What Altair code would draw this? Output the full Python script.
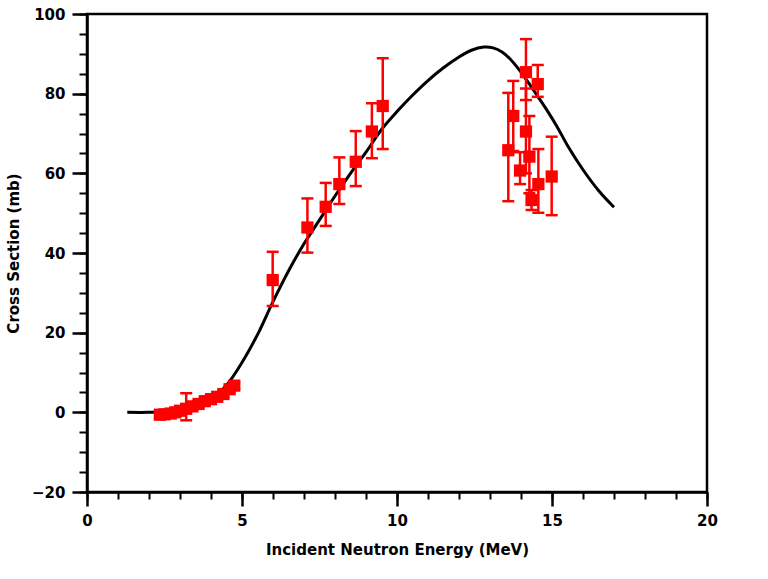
import altair as alt
import pandas as pd

# Calculated excitation function (MeV, mb)
curve_energy = [1.3, 2.0, 2.5, 3.0, 3.5, 4.0, 4.5, 5.0, 5.5, 6.0, 6.5, 7.0, 7.5, 8.0,
                8.5, 9.0, 9.5, 10.0, 10.5, 11.0, 11.5, 12.0, 12.4, 12.8, 13.1, 13.4,
                13.65, 13.9, 14.2, 14.5, 14.8, 15.15, 15.5, 16.0, 16.5, 17.0]
curve_xs = [0.0, 0.0, 0.1, 0.6, 1.6, 3.3, 6.8, 12.5, 19.5, 27.8, 35.5, 42.3, 48.3, 54.3,
            60.0, 65.3, 71.0, 75.5, 79.6, 83.3, 86.5, 89.2, 90.9, 91.7, 91.5, 90.4,
            88.7, 86.4, 83.2, 79.8, 76.3, 71.9, 67.0, 60.9, 55.7, 51.5]

# Measured cross sections with lower / upper error limits
meas_energy = [2.35, 2.5, 2.7, 2.85, 3.0, 3.2, 3.4, 3.6, 3.8, 4.0, 4.2, 4.4, 4.6, 4.75,
               5.99, 7.11, 7.70, 8.14, 8.67, 9.19, 9.54,
               13.59, 13.75, 13.97, 14.16, 14.16, 14.27, 14.34, 14.54, 14.56, 14.99]
meas_xs = [-0.6, -0.5, -0.3, 0.0, 0.4, 0.9, 1.5, 2.1, 2.8, 3.3, 3.9, 4.6, 5.8, 6.7,
           33.2, 46.4, 51.6, 57.3, 62.9, 70.5, 76.9,
           65.8, 74.4, 60.7, 85.4, 70.5, 64.2, 53.3, 82.4, 57.3, 59.2]
meas_lo = [-1.4, -1.3, -1.1, -0.8, -0.4, -2.0, 0.7, 1.3, 2.0, 2.5, 3.1, 3.8, 5.0, 5.9,
           26.7, 40.1, 46.8, 52.3, 56.8, 63.8, 66.1,
           53.0, 65.6, 57.3, 78.4, 60.0, 55.0, 50.8, 79.2, 50.1, 49.5]
meas_hi = [0.2, 0.3, 0.5, 0.8, 1.2, 4.8, 2.3, 2.9, 3.6, 4.1, 4.7, 5.4, 6.6, 7.5,
           40.3, 53.7, 57.6, 64.0, 70.6, 77.6, 88.9,
           80.2, 83.2, 65.3, 93.7, 81.3, 74.4, 55.8, 87.2, 66.1, 69.2]

x_major = [0, 5, 10, 15, 20]
x_minor = list(range(0, 21))
y_major = [-20, 0, 20, 40, 60, 80, 100]
y_minor = list(range(-20, 101, 5))

curve = pd.DataFrame({"E": curve_energy, "xs": curve_xs})
meas = pd.DataFrame({"E": meas_energy, "xs": meas_xs, "lo": meas_lo, "hi": meas_hi})

FONT = "DejaVu Sans"
xscale = alt.Scale(domain=[0, 20], nice=False, zero=False)
yscale = alt.Scale(domain=[-20, 100], nice=False, zero=False)

common = dict(grid=False, domainColor="black", tickColor="black", domainWidth=2.5,
              labelColor="black", titleColor="black", labelFont=FONT, titleFont=FONT,
              labelFontSize=15, titleFontSize=15, labelFontWeight="bold",
              titleFontWeight="bold", format="d", labelFlush=False)

x_axis = alt.Axis(values=x_major, orient="bottom", tickSize=14, tickWidth=2.5,
                  labelPadding=7, titlePadding=14,
                  title="Incident Neutron Energy (MeV)", **common)
y_axis = alt.Axis(values=y_major, orient="left", tickSize=15, tickWidth=2.5,
                  labelPadding=7, titlePadding=10,
                  title="Cross Section (mb)", **common)
x_axis_minor = alt.Axis(values=x_minor, orient="bottom", tickSize=7, tickWidth=2,
                        labels=False, domain=False, grid=False, title=None,
                        tickColor="black")
y_axis_minor = alt.Axis(values=y_minor, orient="left", tickSize=8, tickWidth=2,
                        labels=False, domain=False, grid=False, title=None,
                        tickColor="black")

line = alt.Chart(curve).mark_line(color="black", strokeWidth=3, interpolate="catmull-rom").encode(
    x=alt.X("E:Q", scale=xscale, axis=x_axis),
    y=alt.Y("xs:Q", scale=yscale, axis=y_axis),
)

minor = alt.Chart(curve).mark_point(opacity=0).encode(
    x=alt.X("E:Q", scale=xscale, axis=x_axis_minor),
    y=alt.Y("xs:Q", scale=yscale, axis=y_axis_minor),
)

bars = alt.Chart(meas).mark_rule(color="red", strokeWidth=2.5, opacity=1).encode(
    x=alt.X("E:Q", scale=xscale, axis=None),
    y=alt.Y("lo:Q", scale=yscale, axis=None),
    y2="hi:Q",
)
cap_lo = alt.Chart(meas).mark_tick(color="red", size=12, thickness=2.5, opacity=1,
                                   orient="horizontal").encode(
    x=alt.X("E:Q", scale=xscale, axis=None),
    y=alt.Y("lo:Q", scale=yscale, axis=None),
)
cap_hi = alt.Chart(meas).mark_tick(color="red", size=12, thickness=2.5, opacity=1,
                                   orient="horizontal").encode(
    x=alt.X("E:Q", scale=xscale, axis=None),
    y=alt.Y("hi:Q", scale=yscale, axis=None),
)
squares = alt.Chart(meas).mark_square(color="red", size=150, opacity=1).encode(
    x=alt.X("E:Q", scale=xscale, axis=None),
    y=alt.Y("xs:Q", scale=yscale, axis=None),
)

chart = alt.layer(minor, line, bars, cap_lo, cap_hi, squares).resolve_axis(
    x="independent", y="independent"
).properties(
    width=620,
    height=478,
    autosize=alt.AutoSizeParams(type="none"),
    padding={"left": 87, "top": 14, "right": 61, "bottom": 87},
    background="white",
).configure_view(stroke="black", strokeWidth=2.5)

chart.save("out.html", embed_options={"renderer": "svg", "actions": False})
